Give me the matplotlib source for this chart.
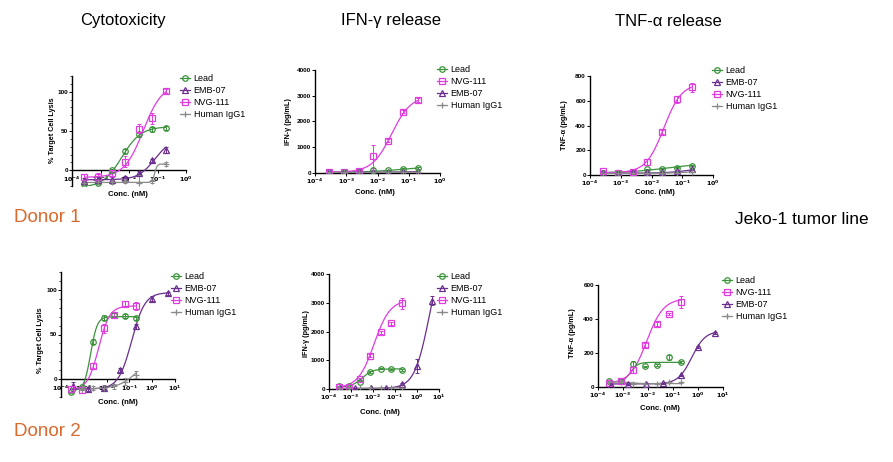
import numpy as np
import matplotlib
matplotlib.use('Agg')
import matplotlib.pyplot as plt
from matplotlib.lines import Line2D
from matplotlib.ticker import FixedLocator, FuncFormatter

plt.rcParams['font.family'] = ['Liberation Sans', 'DejaVu Sans']

W, H = 893, 462

# ---------------- data ----------------
conc = [0.000274, 0.000823, 0.00247, 0.00741, 0.0222, 0.0667, 0.2]
conc_emb_d2 = [0.00032, 0.0016, 0.008, 0.04, 0.2, 1.0, 5.0]

series_names = ['Lead', 'EMB-07', 'NVG-111', 'Human IgG1']

# Cytotoxicity, donor 1 (% target cell lysis)
cyt1_lead = [-17, -16, 0, 24, 46, 52, 54]
cyt1_emb = [-13, -12, -12, -10, -3, 13, 26]
cyt1_nvg = [-9, -8, -4, 11, 53, 66, 101]
cyt1_igg = [-16, -15, -15, -14, -16, -14, 8]
cyt1_lead_err = [2, 2, 2, 3, 3, 3, 3]
cyt1_emb_err = [3, 3, 3, 3, 2, 2, 4]
cyt1_nvg_err = [4, 4, 4, 7, 6, 7, 2]
cyt1_igg_err = [2, 2, 2, 2, 10, 2, 3]
cyt1_fits = {'Lead': [-22, 55.5, -2.25, 1.3], 'EMB-07': [-12, 40, -1.1, 1.5],
             'NVG-111': [-9, 110, -1.5, 1.3], 'Human IgG1': [-15.5, 8, -1.1, 10]}

# IFN-gamma, donor 1 (pg/mL)
ifn1_lead = [30, 40, 60, 100, 105, 155, 195]
ifn1_nvg = [30, 40, 80, 650, 1260, 2380, 2830]
ifn1_emb = [20, 30, 40, 30, 40, 50, 50]
ifn1_igg = [20, 20, 30, 20, 30, 30, 30]
ifn1_lead_err = [10, 10, 10, 15, 15, 20, 25]
ifn1_nvg_err = [10, 10, 20, 450, 60, 60, 80]
ifn1_emb_err = [5, 5, 5, 5, 5, 5, 5]
ifn1_igg_err = [5, 5, 5, 5, 5, 5, 5]
ifn1_fits = {'Lead': [30, 260, -1.2, 0.8], 'NVG-111': [30, 3000, -1.55, 1.4],
             'EMB-07': [20, 60, -1.5, 1.0], 'Human IgG1': [20, 35, -2.0, 1.0]}

# TNF-alpha, donor 1 (pg/mL)
tnf1_lead = [20, 20, 25, 45, 50, 60, 75]
tnf1_emb = [15, 18, 22, 22, 25, 30, 45]
tnf1_nvg = [32, 13, 22, 108, 345, 612, 709]
tnf1_igg = [15, 15, 18, 15, 15, 20, 25]
tnf1_lead_err = [3, 3, 3, 4, 4, 5, 6]
tnf1_emb_err = [3, 3, 3, 3, 3, 4, 5]
tnf1_nvg_err = [8, 5, 5, 25, 15, 30, 35]
tnf1_igg_err = [3, 3, 3, 3, 3, 3, 3]
tnf1_fits = {'Lead': [18, 95, -1.5, 0.7], 'EMB-07': [15, 60, -0.8, 1.2],
             'NVG-111': [18, 740, -1.6, 1.5], 'Human IgG1': [14, 30, -0.9, 1.5]}

# Cytotoxicity, donor 2
cyt2_lead = [-14, -9, 42, 69, 72, 71, 68]
cyt2_emb = [-8, -11, -10, 10, 59, 90, 96]
cyt2_nvg = [-11, -12, 15, 57, 72, 84, 82]
cyt2_igg = [-12, -11, -10, -10, -8, -3, 5]
cyt2_lead_err = [2, 3, 3, 3, 2, 2, 2]
cyt2_emb_err = [5, 2, 2, 2, 3, 3, 2]
cyt2_nvg_err = [3, 3, 3, 5, 3, 3, 4]
cyt2_igg_err = [2, 4, 2, 3, 3, 4, 4]
cyt2_fits = {'Lead': [-13, 70, -2.7, 3.0], 'EMB-07': [-11, 97, -0.9, 1.5],
             'NVG-111': [-12, 82, -2.35, 1.8], 'Human IgG1': [-11, 30, -0.6, 1.0]}

# IFN-gamma, donor 2
ifn2_lead = [90, 90, 255, 580, 710, 685, 672]
ifn2_emb = [20, 20, 25, 35, 175, 790, 3070]
ifn2_nvg = [60, 70, 350, 1160, 1970, 2280, 2980]
ifn2_igg = [20, 25, 25, 30, 30, 35, 50]
ifn2_lead_err = [20, 15, 20, 30, 30, 20, 30]
ifn2_emb_err = [5, 5, 5, 5, 40, 250, 150]
ifn2_nvg_err = [10, 10, 30, 50, 60, 50, 200]
ifn2_igg_err = [5, 5, 5, 5, 5, 5, 10]
ifn2_fits = {'Lead': [60, 700, -2.5, 1.8], 'EMB-07': [20, 5000, 0.55, 1.3],
             'NVG-111': [40, 3100, -1.95, 1.2], 'Human IgG1': [20, 60, -1.0, 1.0]}

# TNF-alpha, donor 2
tnf2_lead = [33, 33, 135, 121, 131, 174, 146]
tnf2_nvg = [23, 33, 100, 248, 371, 430, 502]
tnf2_emb = [13, 15, 18, 23, 68, 234, 320]
tnf2_igg = [30, 30, 20, 20, 20, 28, 28]
tnf2_lead_err = [4, 4, 20, 5, 5, 15, 5]
tnf2_nvg_err = [4, 5, 15, 12, 10, 8, 35]
tnf2_emb_err = [3, 3, 3, 3, 4, 6, 6]
tnf2_igg_err = [3, 3, 3, 3, 3, 3, 3]
tnf2_fits = {'Lead': [28, 145, -2.7, 3.0], 'NVG-111': [20, 520, -2.05, 1.3],
             'EMB-07': [18, 330, -0.25, 1.6], 'Human IgG1': [32, 20, -2.8, 2.0]}

xticks_d1 = [1e-4, 1e-3, 1e-2, 1e-1, 1e0]
xticks_d2 = [1e-4, 1e-3, 1e-2, 1e-1, 1e0, 1e1]

# ---------------- styles ----------------
GREEN = '#3b933b'
PURPLE = '#6a2e8e'
MAGENTA = '#e03ce0'
GRAY = '#8a8a8a'
style = {
    'Lead': dict(color=GREEN, marker='o'),
    'EMB-07': dict(color=PURPLE, marker='^'),
    'NVG-111': dict(color=MAGENTA, marker='s'),
    'Human IgG1': dict(color=GRAY, marker='+'),
}

fig = plt.figure(figsize=(W / 100, H / 100), dpi=100)


def add_ax(l, r, t, b):
    return fig.add_axes([l / W, 1 - b / H, (r - l) / W, (b - t) / H])


def four_pl(x, p):
    bottom, top, logec, hill = p
    return bottom + (top - bottom) / (1 + 10 ** ((logec - np.log10(x)) * hill))


def pow_fmt(v, pos):
    e = int(round(np.log10(v)))
    return r'$\mathbf{10^{%d}}$' % e


def draw_panel(box, xlim, ylim, yticks, xticks, data, fits, order, legend_xy,
               ylabel, xlabel_xy, ylabel_xy, zero_axis=False, yminor=None):
    ax = add_ax(*box)
    ax.set_xscale('log')
    ax.set_xlim(*xlim)
    ax.set_ylim(*ylim)
    for name in order:
        x, y, e = data[name]
        st = style[name]
        xx = np.logspace(np.log10(x[0]), np.log10(x[-1]), 200)
        ax.plot(xx, four_pl(xx, fits[name]), color=st['color'], lw=0.9, zorder=3)
        ax.errorbar(x, y, yerr=e, fmt='none', ecolor=st['color'], elinewidth=0.7,
                    capsize=1.5, capthick=0.7, zorder=4)
        ax.plot(x, y, linestyle='none', marker=st['marker'],
                mfc='none' if st['marker'] != '+' else st['color'],
                mec=st['color'], mew=0.9, ms=4.0, zorder=5)
    for s in ['top', 'right']:
        ax.spines[s].set_visible(False)
    for s in ['left', 'bottom']:
        ax.spines[s].set_linewidth(1.0)
    if zero_axis:
        ax.spines['bottom'].set_position(('data', 0))
    ax.xaxis.set_major_locator(FixedLocator(xticks))
    ax.xaxis.set_minor_locator(FixedLocator([]))
    ax.xaxis.set_major_formatter(FuncFormatter(pow_fmt))
    ax.set_yticks(yticks)
    ax.set_yticklabels([str(v) for v in yticks], fontweight='bold')
    if yminor is not None:
        ax.yaxis.set_minor_locator(FixedLocator(yminor))
        ax.tick_params(axis='y', which='minor', length=1.2, width=0.5)
    ax.tick_params(axis='both', which='major', labelsize=4.6, length=2, width=0.7, pad=1)
    ax.patch.set_alpha(0)
    fig.text(xlabel_xy[0] / W, 1 - xlabel_xy[1] / H, 'Conc. (nM)', fontsize=5.6,
             fontweight='bold', ha='center', va='center')
    fig.text(ylabel_xy[0] / W, 1 - ylabel_xy[1] / H, ylabel, fontsize=5.2,
             fontweight='bold', ha='center', va='center', rotation=90)
    handles = [Line2D([0], [0], color=style[n]['color'], lw=0.9, marker=style[n]['marker'],
                      mfc='none', mec=style[n]['color'], mew=0.9, ms=4.0) for n in order]
    fig.legend(handles, order, loc='upper left',
               bbox_to_anchor=(legend_xy[0] / W, 1 - (legend_xy[1] - 5) / H),
               bbox_transform=fig.transFigure, frameon=False, fontsize=6.5,
               handlelength=1.15, handletextpad=0.35, labelspacing=0.33,
               borderpad=0, borderaxespad=0)
    return ax


order_a = ['Lead', 'EMB-07', 'NVG-111', 'Human IgG1']
order_b = ['Lead', 'NVG-111', 'EMB-07', 'Human IgG1']

# Panel 1
draw_panel((72, 186, 76, 186), (1e-4, 1e0), (-20, 120), [0, 50, 100], xticks_d1,
           {'Lead': (conc, cyt1_lead, cyt1_lead_err), 'EMB-07': (conc, cyt1_emb, cyt1_emb_err),
            'NVG-111': (conc, cyt1_nvg, cyt1_nvg_err), 'Human IgG1': (conc, cyt1_igg, cyt1_igg_err)},
           cyt1_fits, order_a, (180, 79), '% Target Cell Lysis', (128, 195), (53, 130),
           zero_axis=True, yminor=list(range(-20, 121, 10)))
# Panel 2
draw_panel((315, 440, 70, 173), (1e-4, 1e0), (0, 4000), [0, 1000, 2000, 3000, 4000], xticks_d1,
           {'Lead': (conc, ifn1_lead, ifn1_lead_err), 'EMB-07': (conc, ifn1_emb, ifn1_emb_err),
            'NVG-111': (conc, ifn1_nvg, ifn1_nvg_err), 'Human IgG1': (conc, ifn1_igg, ifn1_igg_err)},
           ifn1_fits, order_b, (437, 70), 'IFN-γ (pg/mL)', (375, 192), (289, 122))
# Panel 3
draw_panel((590, 713, 76, 175), (1e-4, 1e0), (0, 800), [0, 200, 400, 600, 800], xticks_d1,
           {'Lead': (conc, tnf1_lead, tnf1_lead_err), 'EMB-07': (conc, tnf1_emb, tnf1_emb_err),
            'NVG-111': (conc, tnf1_nvg, tnf1_nvg_err), 'Human IgG1': (conc, tnf1_igg, tnf1_igg_err)},
           tnf1_fits, order_a, (712, 71), 'TNF-α (pg/mL)', (655, 193), (565, 125))
# Panel 4
draw_panel((61, 175, 272, 397), (1e-4, 1e1), (-20, 120), [0, 50, 100], xticks_d2,
           {'Lead': (conc, cyt2_lead, cyt2_lead_err), 'EMB-07': (conc_emb_d2, cyt2_emb, cyt2_emb_err),
            'NVG-111': (conc, cyt2_nvg, cyt2_nvg_err), 'Human IgG1': (conc, cyt2_igg, cyt2_igg_err)},
           cyt2_fits, order_a, (171, 277), '% Target Cell Lysis', (118, 403), (41, 340),
           zero_axis=True, yminor=list(range(-20, 121, 10)))
# Panel 5
draw_panel((329, 439, 274, 389), (1e-4, 1e1), (0, 4000), [0, 1000, 2000, 3000, 4000], xticks_d2,
           {'Lead': (conc, ifn2_lead, ifn2_lead_err), 'EMB-07': (conc_emb_d2, ifn2_emb, ifn2_emb_err),
            'NVG-111': (conc, ifn2_nvg, ifn2_nvg_err), 'Human IgG1': (conc, ifn2_igg, ifn2_igg_err)},
           ifn2_fits, order_a, (437, 277), 'IFN-γ (pg/mL)', (380, 412), (307, 334))
# Panel 6
draw_panel((598, 723, 285, 387), (1e-4, 1e1), (0, 600), [0, 200, 400, 600], xticks_d2,
           {'Lead': (conc, tnf2_lead, tnf2_lead_err), 'EMB-07': (conc_emb_d2, tnf2_emb, tnf2_emb_err),
            'NVG-111': (conc, tnf2_nvg, tnf2_nvg_err), 'Human IgG1': (conc, tnf2_igg, tnf2_igg_err)},
           tnf2_fits, order_b, (722, 281), 'TNF-α (pg/mL)', (660, 408), (572, 333))

# Titles and annotations
fig.text(123 / W, 1 - 21 / H, 'Cytotoxicity', fontsize=12, ha='center', va='center')
fig.text(391 / W, 1 - 21 / H, 'IFN-γ release', fontsize=12, ha='center', va='center')
fig.text(668 / W, 1 - 21 / H, 'TNF-α release', fontsize=12, ha='center', va='center')
ORANGE = '#d9692c'
fig.text(14 / W, 1 - 217 / H, 'Donor 1', fontsize=13.5, color=ORANGE, ha='left', va='center')
fig.text(14 / W, 1 - 432 / H, 'Donor 2', fontsize=13.5, color=ORANGE, ha='left', va='center')
fig.text(735 / W, 1 - 219 / H, 'Jeko-1 tumor line', fontsize=12.5, ha='left', va='center')

fig.savefig('out.png', dpi=100)
